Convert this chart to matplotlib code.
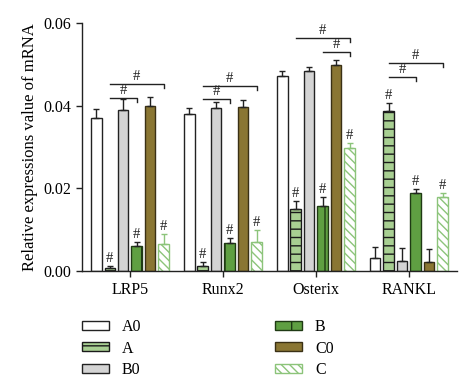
import numpy as np
import matplotlib
matplotlib.use("Agg")
import matplotlib.pyplot as plt

plt.rcParams['font.family'] = ['Liberation Serif', 'DejaVu Serif']

genes = ['LRP5', 'Runx2', 'Osterix', 'RANKL']
groups = ['A0', 'A', 'B0', 'B', 'C0', 'C']

# mean values per group (rows) across genes (columns)
means = {
    'A0': [0.0370, 0.0380, 0.0472, 0.0031],
    'A':  [0.0008, 0.0013, 0.0150, 0.0387],
    'B0': [0.0390, 0.0395, 0.0484, 0.0024],
    'B':  [0.0060, 0.0068, 0.0157, 0.0189],
    'C0': [0.0400, 0.0398, 0.0498, 0.0022],
    'C':  [0.0065, 0.0070, 0.0297, 0.0179],
}
errs = {
    'A0': [0.0022, 0.0015, 0.0012, 0.0027],
    'A':  [0.0004, 0.0009, 0.0019, 0.0019],
    'B0': [0.0025, 0.0015, 0.0009, 0.0032],
    'B':  [0.0010, 0.0012, 0.0022, 0.0009],
    'C0': [0.0022, 0.0016, 0.0012, 0.0031],
    'C':  [0.0025, 0.0029, 0.0012, 0.0010],
}
# groups marked with '#' above the bar
marked = ['A', 'B', 'C']
# comparison brackets: (gene index, from group, to group, height)
brackets = [
    (0, 'A', 'B', 0.0418), (0, 'A', 'C', 0.0452),
    (1, 'A', 'B', 0.0416), (1, 'A', 'C', 0.0447),
    (2, 'B', 'C', 0.0530), (2, 'A', 'C', 0.0563),
    (3, 'A', 'B', 0.0469), (3, 'A', 'C', 0.0503),
]

styles = {
    'A0': dict(color='white', edgecolor='#222222', hatch=None),
    'A':  dict(color='#a8cf92', edgecolor='#1a1a1a', hatch='--'),
    'B0': dict(color='#d4d4d4', edgecolor='#222222', hatch=None),
    'B':  dict(color='#5f9f42', edgecolor='#1f3a14', hatch='|'),
    'C0': dict(color='#8a7633', edgecolor='#3a3015', hatch=None),
    'C':  dict(color='white', edgecolor='#8cc47a', hatch='\\\\\\\\'),
}

fig = plt.figure(figsize=(4.74, 3.89), dpi=100)
ax = fig.add_axes([0.173, 0.303, 0.791, 0.638])

x = np.arange(len(genes))
step = 0.145
width = 0.113
pos = {}
for i, g in enumerate(groups):
    xs = x + (i - 2.5) * step
    pos[g] = xs
    st = styles[g]
    ax.bar(xs, means[g], width, color=st['color'], edgecolor=st['edgecolor'],
           hatch=st['hatch'], linewidth=1.0, label=g, zorder=2)
    ecol = '#8cc47a' if g == 'C' else '#222222'
    ax.errorbar(xs, means[g], yerr=[np.zeros(4), errs[g]], fmt='none',
                ecolor=ecol, elinewidth=1.0, capsize=2.5, capthick=1.0, zorder=3)
    if g in marked:
        for xi, m, e in zip(xs, means[g], errs[g]):
            ax.text(xi, m + e + 0.0002, '#', ha='center', va='bottom', fontsize=10.5,
                    color='#222222')

for gi, g1, g2, h in brackets:
    x1 = pos[g1][gi]
    x2 = pos[g2][gi]
    ax.plot([x1, x2, x2], [h, h, h - 0.001], color='#222222', lw=1.0, zorder=3)
    ax.text((x1 + x2) / 2, h + 0.0002, '#', ha='center', va='bottom', fontsize=10.5,
            color='#222222')

ax.set_xlim(-0.516, 3.516)
ax.set_ylim(0, 0.06)
ax.set_yticks([0, 0.02, 0.04, 0.06])
ax.set_yticklabels(['0.00', '0.02', '0.04', '0.06'])
ax.set_xticks(x)
ax.set_xticklabels(genes)
ax.tick_params(axis='both', labelsize=11.5, width=1.0, length=4, color='#222222')
ax.set_ylabel('Relative expressions value of mRNA', fontsize=12)
for s in ['top', 'right']:
    ax.spines[s].set_visible(False)
for s in ['left', 'bottom']:
    ax.spines[s].set_linewidth(1.0)
    ax.spines[s].set_color('#222222')

handles, labels = ax.get_legend_handles_labels()
fig.legend(handles, labels, ncol=2, loc='upper left', bbox_to_anchor=(0.172, 0.18),
           frameon=False, fontsize=11.5, handlelength=1.7, handleheight=0.5,
           handletextpad=0.8, columnspacing=8.4, labelspacing=0.35,
           borderpad=0, borderaxespad=0)

fig.savefig('out.png', dpi=100)
